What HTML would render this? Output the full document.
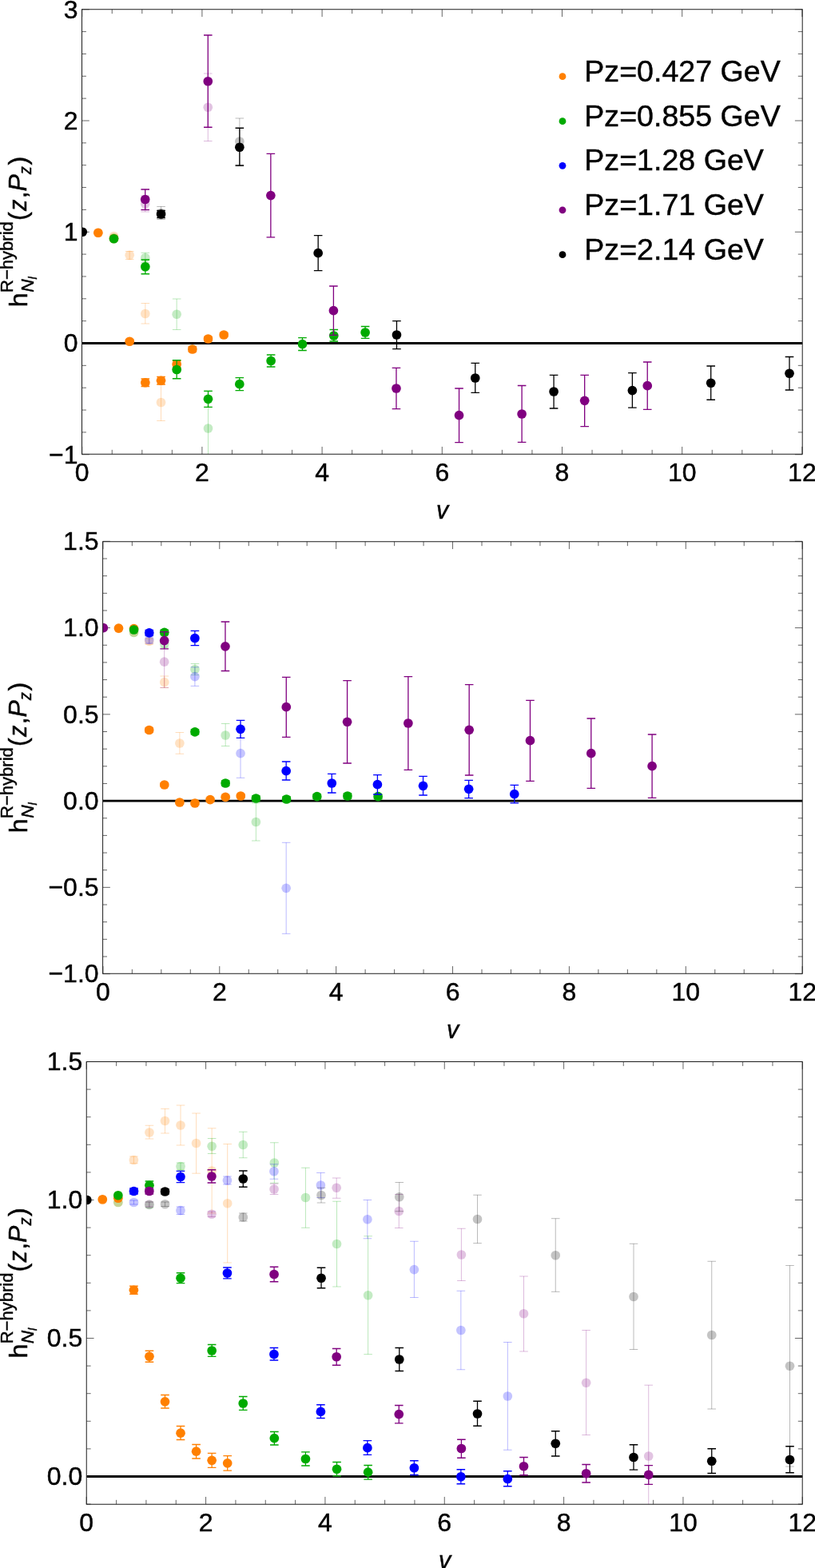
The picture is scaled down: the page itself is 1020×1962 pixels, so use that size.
<!DOCTYPE html>
<html><head><meta charset="utf-8"><title>plot</title>
<style>
html,body{margin:0;padding:0;background:#fff;}
svg{display:block;}
text{font-family:"Liberation Sans",Arial,Helvetica,sans-serif;fill:#000;stroke:#000;stroke-width:0.45px;}
.tk{font-size:32px;}
</style></head><body>
<svg width="1020" height="1962" viewBox="0 0 1020 1962">
<rect width="1020" height="1962" fill="#fff"/>
<clipPath id="c1"><rect x="102.5" y="11.75" width="901.7" height="556.5"/></clipPath>
<path d="M102.7 568.25v-9.3M102.7 11.75v9.3M140.25 568.25v-5.4M140.25 11.75v5.4M177.8 568.25v-5.4M177.8 11.75v5.4M215.35 568.25v-5.4M215.35 11.75v5.4M252.9 568.25v-9.3M252.9 11.75v9.3M290.45 568.25v-5.4M290.45 11.75v5.4M328 568.25v-5.4M328 11.75v5.4M365.55 568.25v-5.4M365.55 11.75v5.4M403.1 568.25v-9.3M403.1 11.75v9.3M440.65 568.25v-5.4M440.65 11.75v5.4M478.2 568.25v-5.4M478.2 11.75v5.4M515.75 568.25v-5.4M515.75 11.75v5.4M553.3 568.25v-9.3M553.3 11.75v9.3M590.85 568.25v-5.4M590.85 11.75v5.4M628.4 568.25v-5.4M628.4 11.75v5.4M665.95 568.25v-5.4M665.95 11.75v5.4M703.5 568.25v-9.3M703.5 11.75v9.3M741.05 568.25v-5.4M741.05 11.75v5.4M778.6 568.25v-5.4M778.6 11.75v5.4M816.15 568.25v-5.4M816.15 11.75v5.4M853.7 568.25v-9.3M853.7 11.75v9.3M891.25 568.25v-5.4M891.25 11.75v5.4M928.8 568.25v-5.4M928.8 11.75v5.4M966.35 568.25v-5.4M966.35 11.75v5.4M1003.9 568.25v-9.3M1003.9 11.75v9.3M102.5 568.75h9.3M1004.2 568.75h-9.3M102.5 540.9h5.4M1004.2 540.9h-5.4M102.5 513.05h5.4M1004.2 513.05h-5.4M102.5 485.2h5.4M1004.2 485.2h-5.4M102.5 457.35h5.4M1004.2 457.35h-5.4M102.5 429.5h9.3M1004.2 429.5h-9.3M102.5 401.65h5.4M1004.2 401.65h-5.4M102.5 373.8h5.4M1004.2 373.8h-5.4M102.5 345.95h5.4M1004.2 345.95h-5.4M102.5 318.1h5.4M1004.2 318.1h-5.4M102.5 290.25h9.3M1004.2 290.25h-9.3M102.5 262.4h5.4M1004.2 262.4h-5.4M102.5 234.55h5.4M1004.2 234.55h-5.4M102.5 206.7h5.4M1004.2 206.7h-5.4M102.5 178.85h5.4M1004.2 178.85h-5.4M102.5 151h9.3M1004.2 151h-9.3M102.5 123.15h5.4M1004.2 123.15h-5.4M102.5 95.3h5.4M1004.2 95.3h-5.4M102.5 67.45h5.4M1004.2 67.45h-5.4M102.5 39.6h5.4M1004.2 39.6h-5.4M102.5 11.75h9.3M1004.2 11.75h-9.3" stroke="#4a4a4a" stroke-width="0.85" fill="none"/>
<g clip-path="url(#c1)">
<circle cx="122.86" cy="291.5" r="5.85" fill="#ff8000" opacity="0.23"/>
<circle cx="142.52" cy="295.5" r="5.85" fill="#ff8000" opacity="0.23"/>
<path d="M162.18 314.5V324.5M156.88 314.5h10.6M156.88 324.5h10.6" stroke="#ff8000" stroke-width="0.9" fill="none" opacity="0.3"/>
<circle cx="162.18" cy="319.25" r="5.85" fill="#ff8000" opacity="0.23"/>
<path d="M181.84 379.5V405M176.54 379.5h10.6M176.54 405h10.6" stroke="#ff8000" stroke-width="0.9" fill="none" opacity="0.3"/>
<circle cx="181.84" cy="392.5" r="5.85" fill="#ff8000" opacity="0.23"/>
<path d="M201.51 480.5V526.5M196.21 480.5h10.6M196.21 526.5h10.6" stroke="#ff8000" stroke-width="0.9" fill="none" opacity="0.3"/>
<circle cx="201.51" cy="503.5" r="5.85" fill="#ff8000" opacity="0.23"/>
<circle cx="142.52" cy="297.5" r="5.85" fill="#00aa00" opacity="0.23"/>
<path d="M181.84 316.25V328.75M176.54 316.25h10.6M176.54 328.75h10.6" stroke="#00aa00" stroke-width="0.9" fill="none" opacity="0.3"/>
<circle cx="181.84" cy="322.5" r="5.85" fill="#00aa00" opacity="0.23"/>
<path d="M221.17 374V412.5M215.87 374h10.6M215.87 412.5h10.6" stroke="#00aa00" stroke-width="0.9" fill="none" opacity="0.3"/>
<circle cx="221.17" cy="393.25" r="5.85" fill="#00aa00" opacity="0.23"/>
<path d="M260.49 489V583M255.19 489h10.6M255.19 583h10.6" stroke="#00aa00" stroke-width="0.9" fill="none" opacity="0.3"/>
<circle cx="260.49" cy="536" r="5.85" fill="#00aa00" opacity="0.23"/>
<path d="M181.72 245V265M176.42 245h10.6M176.42 265h10.6" stroke="#800080" stroke-width="0.9" fill="none" opacity="0.3"/>
<circle cx="181.72" cy="255" r="5.85" fill="#800080" opacity="0.23"/>
<path d="M260.28 92V176.5M254.98 92h10.6M254.98 176.5h10.6" stroke="#800080" stroke-width="0.9" fill="none" opacity="0.3"/>
<circle cx="260.28" cy="134.25" r="5.85" fill="#800080" opacity="0.23"/>
<path d="M201.56 258.5V274.5M196.26 258.5h10.6M196.26 274.5h10.6" stroke="#000000" stroke-width="0.9" fill="none" opacity="0.3"/>
<circle cx="201.56" cy="266.5" r="5.85" fill="#000000" opacity="0.23"/>
<path d="M299.86 148V206M294.56 148h10.6M294.56 206h10.6" stroke="#000000" stroke-width="0.9" fill="none" opacity="0.3"/>
<circle cx="299.86" cy="177" r="5.85" fill="#000000" opacity="0.23"/>
<path d="M102.5 429.5H1004.2" stroke="#000" stroke-width="2.8" fill="none"/>
<circle cx="122.86" cy="291.25" r="5.85" fill="#ff8000"/>
<circle cx="142.52" cy="298.5" r="5.85" fill="#ff8000"/>
<path d="M162.18 425V429.5M156.88 425h10.6M156.88 429.5h10.6" stroke="#ff8000" stroke-width="1.3" fill="none"/>
<circle cx="162.18" cy="427.25" r="5.85" fill="#ff8000"/>
<path d="M181.84 474V483.5M176.54 474h10.6M176.54 483.5h10.6" stroke="#ff8000" stroke-width="1.3" fill="none"/>
<circle cx="181.84" cy="478.75" r="5.85" fill="#ff8000"/>
<path d="M201.51 471.5V481M196.21 471.5h10.6M196.21 481h10.6" stroke="#ff8000" stroke-width="1.3" fill="none"/>
<circle cx="201.51" cy="476.25" r="5.85" fill="#ff8000"/>
<path d="M221.17 451.5V460M215.87 451.5h10.6M215.87 460h10.6" stroke="#ff8000" stroke-width="1.3" fill="none"/>
<circle cx="221.17" cy="455.75" r="5.85" fill="#ff8000"/>
<path d="M240.83 434V440M235.53 434h10.6M235.53 440h10.6" stroke="#ff8000" stroke-width="1.3" fill="none"/>
<circle cx="240.83" cy="437" r="5.85" fill="#ff8000"/>
<path d="M260.49 421.5V426.5M255.19 421.5h10.6M255.19 426.5h10.6" stroke="#ff8000" stroke-width="1.3" fill="none"/>
<circle cx="260.49" cy="424" r="5.85" fill="#ff8000"/>
<path d="M280.15 416.5V421.5M274.85 416.5h10.6M274.85 421.5h10.6" stroke="#ff8000" stroke-width="1.3" fill="none"/>
<circle cx="280.15" cy="419" r="5.85" fill="#ff8000"/>
<circle cx="142.52" cy="298.75" r="5.85" fill="#00aa00"/>
<path d="M181.84 325V342.75M176.54 325h10.6M176.54 342.75h10.6" stroke="#00aa00" stroke-width="1.3" fill="none"/>
<circle cx="181.84" cy="333.75" r="5.85" fill="#00aa00"/>
<path d="M221.17 450.75V473.75M215.87 450.75h10.6M215.87 473.75h10.6" stroke="#00aa00" stroke-width="1.3" fill="none"/>
<circle cx="221.17" cy="462.5" r="5.85" fill="#00aa00"/>
<path d="M260.49 489.3V509.3M255.19 489.3h10.6M255.19 509.3h10.6" stroke="#00aa00" stroke-width="1.3" fill="none"/>
<circle cx="260.49" cy="499.3" r="5.85" fill="#00aa00"/>
<path d="M299.81 472.7V488.7M294.51 472.7h10.6M294.51 488.7h10.6" stroke="#00aa00" stroke-width="1.3" fill="none"/>
<circle cx="299.81" cy="480.7" r="5.85" fill="#00aa00"/>
<path d="M339.13 444V459M333.83 444h10.6M333.83 459h10.6" stroke="#00aa00" stroke-width="1.3" fill="none"/>
<circle cx="339.13" cy="451.5" r="5.85" fill="#00aa00"/>
<path d="M378.46 422.7V438.5M373.16 422.7h10.6M373.16 438.5h10.6" stroke="#00aa00" stroke-width="1.3" fill="none"/>
<circle cx="378.46" cy="430.7" r="5.85" fill="#00aa00"/>
<path d="M417.78 412.5V427M412.48 412.5h10.6M412.48 427h10.6" stroke="#00aa00" stroke-width="1.3" fill="none"/>
<circle cx="417.78" cy="420" r="5.85" fill="#00aa00"/>
<path d="M457.1 408.5V423.3M451.8 408.5h10.6M451.8 423.3h10.6" stroke="#00aa00" stroke-width="1.3" fill="none"/>
<circle cx="457.1" cy="416" r="5.85" fill="#00aa00"/>
<path d="M181.72 237V262.5M176.42 237h10.6M176.42 262.5h10.6" stroke="#800080" stroke-width="1.3" fill="none"/>
<circle cx="181.72" cy="249.5" r="5.85" fill="#800080"/>
<path d="M260.28 44V159.25M254.98 44h10.6M254.98 159.25h10.6" stroke="#800080" stroke-width="1.3" fill="none"/>
<circle cx="260.28" cy="101.75" r="5.85" fill="#800080"/>
<path d="M338.85 192.4V296.8M333.55 192.4h10.6M333.55 296.8h10.6" stroke="#800080" stroke-width="1.3" fill="none"/>
<circle cx="338.85" cy="244.6" r="5.85" fill="#800080"/>
<path d="M417.41 358V419.3M412.11 358h10.6M412.11 419.3h10.6" stroke="#800080" stroke-width="1.3" fill="none"/>
<circle cx="417.41" cy="388.7" r="5.85" fill="#800080"/>
<path d="M495.98 460.3V511.7M490.68 460.3h10.6M490.68 511.7h10.6" stroke="#800080" stroke-width="1.3" fill="none"/>
<circle cx="495.98" cy="486" r="5.85" fill="#800080"/>
<path d="M574.55 486V553.7M569.25 486h10.6M569.25 553.7h10.6" stroke="#800080" stroke-width="1.3" fill="none"/>
<circle cx="574.55" cy="519.7" r="5.85" fill="#800080"/>
<path d="M653.11 482.5V553.3M647.81 482.5h10.6M647.81 553.3h10.6" stroke="#800080" stroke-width="1.3" fill="none"/>
<circle cx="653.11" cy="518" r="5.85" fill="#800080"/>
<path d="M731.68 469.3V533.7M726.38 469.3h10.6M726.38 533.7h10.6" stroke="#800080" stroke-width="1.3" fill="none"/>
<circle cx="731.68" cy="501.3" r="5.85" fill="#800080"/>
<path d="M810.24 453V512.3M804.94 453h10.6M804.94 512.3h10.6" stroke="#800080" stroke-width="1.3" fill="none"/>
<circle cx="810.24" cy="482.7" r="5.85" fill="#800080"/>
<circle cx="103.25" cy="290.25" r="5.85" fill="#000000"/>
<path d="M201.56 263.5V272.5M196.26 263.5h10.6M196.26 272.5h10.6" stroke="#000000" stroke-width="1.3" fill="none"/>
<circle cx="201.56" cy="268" r="5.85" fill="#000000"/>
<path d="M299.86 160.25V207.25M294.56 160.25h10.6M294.56 207.25h10.6" stroke="#000000" stroke-width="1.3" fill="none"/>
<circle cx="299.86" cy="184.25" r="5.85" fill="#000000"/>
<path d="M398.17 294.7V338.7M392.87 294.7h10.6M392.87 338.7h10.6" stroke="#000000" stroke-width="1.3" fill="none"/>
<circle cx="398.17" cy="316.7" r="5.85" fill="#000000"/>
<path d="M496.47 401.7V436.7M491.17 401.7h10.6M491.17 436.7h10.6" stroke="#000000" stroke-width="1.3" fill="none"/>
<circle cx="496.47" cy="419" r="5.85" fill="#000000"/>
<path d="M594.78 454.3V491.3M589.48 454.3h10.6M589.48 491.3h10.6" stroke="#000000" stroke-width="1.3" fill="none"/>
<circle cx="594.78" cy="473" r="5.85" fill="#000000"/>
<path d="M693.08 469.3V511M687.78 469.3h10.6M687.78 511h10.6" stroke="#000000" stroke-width="1.3" fill="none"/>
<circle cx="693.08" cy="490" r="5.85" fill="#000000"/>
<path d="M791.39 466.7V510.2M786.09 466.7h10.6M786.09 510.2h10.6" stroke="#000000" stroke-width="1.3" fill="none"/>
<circle cx="791.39" cy="488.6" r="5.85" fill="#000000"/>
<path d="M889.7 458V500.25M884.4 458h10.6M884.4 500.25h10.6" stroke="#000000" stroke-width="1.3" fill="none"/>
<circle cx="889.7" cy="479.25" r="5.85" fill="#000000"/>
<path d="M988 446.5V488M982.7 446.5h10.6M982.7 488h10.6" stroke="#000000" stroke-width="1.3" fill="none"/>
<circle cx="988" cy="467.25" r="5.85" fill="#000000"/>
</g>
<rect x="102.5" y="11.75" width="901.7" height="556.5" fill="none" stroke="#1c1c1c" stroke-width="1"/>
<text x="102.7" y="601.65" text-anchor="middle" class="tk">0</text>
<text x="252.9" y="601.65" text-anchor="middle" class="tk">2</text>
<text x="403.1" y="601.65" text-anchor="middle" class="tk">4</text>
<text x="553.3" y="601.65" text-anchor="middle" class="tk">6</text>
<text x="703.5" y="601.65" text-anchor="middle" class="tk">8</text>
<text x="853.7" y="601.65" text-anchor="middle" class="tk">10</text>
<text x="1003.9" y="601.65" text-anchor="middle" class="tk">12</text>
<text x="97.5" y="579.55" text-anchor="end" class="tk">−1</text>
<text x="97.5" y="440.3" text-anchor="end" class="tk">0</text>
<text x="97.5" y="301.05" text-anchor="end" class="tk">1</text>
<text x="97.5" y="161.8" text-anchor="end" class="tk">2</text>
<text x="97.5" y="22.55" text-anchor="end" class="tk">3</text>
<text x="553.65" y="648.55" text-anchor="middle" font-size="30.5" font-style="italic">v</text>
<g transform="translate(33.4,381.7) rotate(-90)" class="yl">
<text x="-2.5" y="0.3" font-size="32">h</text>
<text x="15.8" y="-17.9" font-size="22">R−hybrid</text>
<text x="15.9" y="8.4" font-size="22.7" font-style="italic">N</text>
<text x="32.1" y="12.6" font-size="14.4" font-style="italic">l</text>
<text x="105.6" y="0" font-size="32">(</text>
<text transform="translate(117.7,0) scale(0.9,1)" font-size="32" font-style="italic">z</text>
<text x="133.4" y="0" font-size="32">,</text>
<text x="142.1" y="0" font-size="32" font-style="italic">P</text>
<text transform="translate(163.5,5.8) scale(0.9,1)" font-size="22.5" font-style="italic">z</text>
<text x="175.1" y="0" font-size="32">)</text>
</g>
<clipPath id="c2"><rect x="128.6" y="677.75" width="875.6" height="540.5"/></clipPath>
<path d="M128.9 1218.25v-9.3M128.9 677.75v9.3M165.37 1218.25v-5.4M165.37 677.75v5.4M201.84 1218.25v-5.4M201.84 677.75v5.4M238.31 1218.25v-5.4M238.31 677.75v5.4M274.78 1218.25v-9.3M274.78 677.75v9.3M311.25 1218.25v-5.4M311.25 677.75v5.4M347.72 1218.25v-5.4M347.72 677.75v5.4M384.19 1218.25v-5.4M384.19 677.75v5.4M420.66 1218.25v-9.3M420.66 677.75v9.3M457.13 1218.25v-5.4M457.13 677.75v5.4M493.6 1218.25v-5.4M493.6 677.75v5.4M530.07 1218.25v-5.4M530.07 677.75v5.4M566.54 1218.25v-9.3M566.54 677.75v9.3M603.01 1218.25v-5.4M603.01 677.75v5.4M639.48 1218.25v-5.4M639.48 677.75v5.4M675.95 1218.25v-5.4M675.95 677.75v5.4M712.42 1218.25v-9.3M712.42 677.75v9.3M748.89 1218.25v-5.4M748.89 677.75v5.4M785.36 1218.25v-5.4M785.36 677.75v5.4M821.83 1218.25v-5.4M821.83 677.75v5.4M858.3 1218.25v-9.3M858.3 677.75v9.3M894.77 1218.25v-5.4M894.77 677.75v5.4M931.24 1218.25v-5.4M931.24 677.75v5.4M967.71 1218.25v-5.4M967.71 677.75v5.4M1004.18 1218.25v-9.3M1004.18 677.75v9.3M128.6 1218.6h9.3M1004.2 1218.6h-9.3M128.6 1196.95h5.4M1004.2 1196.95h-5.4M128.6 1175.3h5.4M1004.2 1175.3h-5.4M128.6 1153.65h5.4M1004.2 1153.65h-5.4M128.6 1132h5.4M1004.2 1132h-5.4M128.6 1110.35h9.3M1004.2 1110.35h-9.3M128.6 1088.7h5.4M1004.2 1088.7h-5.4M128.6 1067.05h5.4M1004.2 1067.05h-5.4M128.6 1045.4h5.4M1004.2 1045.4h-5.4M128.6 1023.75h5.4M1004.2 1023.75h-5.4M128.6 1002.1h9.3M1004.2 1002.1h-9.3M128.6 980.45h5.4M1004.2 980.45h-5.4M128.6 958.8h5.4M1004.2 958.8h-5.4M128.6 937.15h5.4M1004.2 937.15h-5.4M128.6 915.5h5.4M1004.2 915.5h-5.4M128.6 893.85h9.3M1004.2 893.85h-9.3M128.6 872.2h5.4M1004.2 872.2h-5.4M128.6 850.55h5.4M1004.2 850.55h-5.4M128.6 828.9h5.4M1004.2 828.9h-5.4M128.6 807.25h5.4M1004.2 807.25h-5.4M128.6 785.6h9.3M1004.2 785.6h-9.3M128.6 763.95h5.4M1004.2 763.95h-5.4M128.6 742.3h5.4M1004.2 742.3h-5.4M128.6 720.65h5.4M1004.2 720.65h-5.4M128.6 699h5.4M1004.2 699h-5.4M128.6 677.35h9.3M1004.2 677.35h-9.3" stroke="#4a4a4a" stroke-width="0.85" fill="none"/>
<g clip-path="url(#c2)">
<circle cx="148.5" cy="786.5" r="5.85" fill="#ff8000" opacity="0.23"/>
<circle cx="167.59" cy="791" r="5.85" fill="#ff8000" opacity="0.23"/>
<path d="M186.69 799V806M181.39 799h10.6M181.39 806h10.6" stroke="#ff8000" stroke-width="0.9" fill="none" opacity="0.3"/>
<circle cx="186.69" cy="802.4" r="5.85" fill="#ff8000" opacity="0.23"/>
<path d="M205.78 846V860.6M200.48 846h10.6M200.48 860.6h10.6" stroke="#ff8000" stroke-width="0.9" fill="none" opacity="0.3"/>
<circle cx="205.78" cy="853.7" r="5.85" fill="#ff8000" opacity="0.23"/>
<path d="M224.88 916.5V943.25M219.58 916.5h10.6M219.58 943.25h10.6" stroke="#ff8000" stroke-width="0.9" fill="none" opacity="0.3"/>
<circle cx="224.88" cy="930" r="5.85" fill="#ff8000" opacity="0.23"/>
<circle cx="167.59" cy="791.5" r="5.85" fill="#00aa00" opacity="0.23"/>
<path d="M205.78 801V810M200.48 801h10.6M200.48 810h10.6" stroke="#00aa00" stroke-width="0.9" fill="none" opacity="0.3"/>
<circle cx="205.78" cy="805.5" r="5.85" fill="#00aa00" opacity="0.23"/>
<path d="M243.97 830.5V844.5M238.67 830.5h10.6M238.67 844.5h10.6" stroke="#00aa00" stroke-width="0.9" fill="none" opacity="0.3"/>
<circle cx="243.97" cy="837.5" r="5.85" fill="#00aa00" opacity="0.23"/>
<path d="M282.17 905.5V933.5M276.87 905.5h10.6M276.87 933.5h10.6" stroke="#00aa00" stroke-width="0.9" fill="none" opacity="0.3"/>
<circle cx="282.17" cy="920" r="5.85" fill="#00aa00" opacity="0.23"/>
<path d="M320.36 1005V1052M315.06 1005h10.6M315.06 1052h10.6" stroke="#00aa00" stroke-width="0.9" fill="none" opacity="0.3"/>
<circle cx="320.36" cy="1028.5" r="5.85" fill="#00aa00" opacity="0.23"/>
<path d="M186.78 796V805M181.48 796h10.6M181.48 805h10.6" stroke="#0000ff" stroke-width="0.9" fill="none" opacity="0.3"/>
<circle cx="186.78" cy="800.5" r="5.85" fill="#0000ff" opacity="0.23"/>
<path d="M243.9 834.8V858.4M238.6 834.8h10.6M238.6 858.4h10.6" stroke="#0000ff" stroke-width="0.9" fill="none" opacity="0.3"/>
<circle cx="243.9" cy="846.6" r="5.85" fill="#0000ff" opacity="0.23"/>
<path d="M301.03 912V973.3M295.73 912h10.6M295.73 973.3h10.6" stroke="#0000ff" stroke-width="0.9" fill="none" opacity="0.3"/>
<circle cx="301.03" cy="942.7" r="5.85" fill="#0000ff" opacity="0.23"/>
<path d="M358.16 1054.3V1168.3M352.86 1054.3h10.6M352.86 1168.3h10.6" stroke="#0000ff" stroke-width="0.9" fill="none" opacity="0.3"/>
<circle cx="358.16" cy="1111.3" r="5.85" fill="#0000ff" opacity="0.23"/>
<path d="M205.66 796V860.4M200.36 796h10.6M200.36 860.4h10.6" stroke="#800080" stroke-width="0.9" fill="none" opacity="0.3"/>
<circle cx="205.66" cy="828.2" r="5.85" fill="#800080" opacity="0.23"/>
<path d="M128.6 1002.1H1004.2" stroke="#000" stroke-width="2.8" fill="none"/>
<circle cx="148.5" cy="786.1" r="5.85" fill="#ff8000"/>
<circle cx="167.59" cy="786.6" r="5.85" fill="#ff8000"/>
<path d="M186.69 911V916M181.39 911h10.6M181.39 916h10.6" stroke="#ff8000" stroke-width="1.3" fill="none"/>
<circle cx="186.69" cy="913.5" r="5.85" fill="#ff8000"/>
<path d="M205.78 980V984M200.48 980h10.6M200.48 984h10.6" stroke="#ff8000" stroke-width="1.3" fill="none"/>
<circle cx="205.78" cy="982" r="5.85" fill="#ff8000"/>
<path d="M224.88 1002V1006M219.58 1002h10.6M219.58 1006h10.6" stroke="#ff8000" stroke-width="1.3" fill="none"/>
<circle cx="224.88" cy="1004" r="5.85" fill="#ff8000"/>
<path d="M243.97 1003V1007M238.67 1003h10.6M238.67 1007h10.6" stroke="#ff8000" stroke-width="1.3" fill="none"/>
<circle cx="243.97" cy="1005" r="5.85" fill="#ff8000"/>
<path d="M263.07 998.7V1002.7M257.77 998.7h10.6M257.77 1002.7h10.6" stroke="#ff8000" stroke-width="1.3" fill="none"/>
<circle cx="263.07" cy="1000.7" r="5.85" fill="#ff8000"/>
<path d="M282.17 995.3V999.3M276.87 995.3h10.6M276.87 999.3h10.6" stroke="#ff8000" stroke-width="1.3" fill="none"/>
<circle cx="282.17" cy="997.3" r="5.85" fill="#ff8000"/>
<path d="M301.26 994V998M295.96 994h10.6M295.96 998h10.6" stroke="#ff8000" stroke-width="1.3" fill="none"/>
<circle cx="301.26" cy="996" r="5.85" fill="#ff8000"/>
<circle cx="167.59" cy="788" r="5.85" fill="#00aa00"/>
<path d="M205.78 788.5V794M200.48 788.5h10.6M200.48 794h10.6" stroke="#00aa00" stroke-width="1.3" fill="none"/>
<circle cx="205.78" cy="791.3" r="5.85" fill="#00aa00"/>
<path d="M243.97 912.8V918.8M238.67 912.8h10.6M238.67 918.8h10.6" stroke="#00aa00" stroke-width="1.3" fill="none"/>
<circle cx="243.97" cy="915.8" r="5.85" fill="#00aa00"/>
<path d="M282.17 977V983M276.87 977h10.6M276.87 983h10.6" stroke="#00aa00" stroke-width="1.3" fill="none"/>
<circle cx="282.17" cy="980" r="5.85" fill="#00aa00"/>
<path d="M320.36 996V1002M315.06 996h10.6M315.06 1002h10.6" stroke="#00aa00" stroke-width="1.3" fill="none"/>
<circle cx="320.36" cy="999" r="5.85" fill="#00aa00"/>
<path d="M358.55 997V1003M353.25 997h10.6M353.25 1003h10.6" stroke="#00aa00" stroke-width="1.3" fill="none"/>
<circle cx="358.55" cy="1000" r="5.85" fill="#00aa00"/>
<path d="M396.74 994V999.5M391.44 994h10.6M391.44 999.5h10.6" stroke="#00aa00" stroke-width="1.3" fill="none"/>
<circle cx="396.74" cy="996.7" r="5.85" fill="#00aa00"/>
<path d="M434.93 993V999M429.63 993h10.6M429.63 999h10.6" stroke="#00aa00" stroke-width="1.3" fill="none"/>
<circle cx="434.93" cy="996" r="5.85" fill="#00aa00"/>
<path d="M473.12 994V999.5M467.82 994h10.6M467.82 999.5h10.6" stroke="#00aa00" stroke-width="1.3" fill="none"/>
<circle cx="473.12" cy="996.7" r="5.85" fill="#00aa00"/>
<path d="M186.78 788.5V795M181.48 788.5h10.6M181.48 795h10.6" stroke="#0000ff" stroke-width="1.3" fill="none"/>
<circle cx="186.78" cy="791.8" r="5.85" fill="#0000ff"/>
<path d="M243.9 789.4V807.6M238.6 789.4h10.6M238.6 807.6h10.6" stroke="#0000ff" stroke-width="1.3" fill="none"/>
<circle cx="243.9" cy="798.5" r="5.85" fill="#0000ff"/>
<path d="M301.03 901.3V923.3M295.73 901.3h10.6M295.73 923.3h10.6" stroke="#0000ff" stroke-width="1.3" fill="none"/>
<circle cx="301.03" cy="912.3" r="5.85" fill="#0000ff"/>
<path d="M358.16 953V976M352.86 953h10.6M352.86 976h10.6" stroke="#0000ff" stroke-width="1.3" fill="none"/>
<circle cx="358.16" cy="964.7" r="5.85" fill="#0000ff"/>
<path d="M415.28 968.3V992M409.98 968.3h10.6M409.98 992h10.6" stroke="#0000ff" stroke-width="1.3" fill="none"/>
<circle cx="415.28" cy="980" r="5.85" fill="#0000ff"/>
<path d="M472.41 969.7V994M467.11 969.7h10.6M467.11 994h10.6" stroke="#0000ff" stroke-width="1.3" fill="none"/>
<circle cx="472.41" cy="981.7" r="5.85" fill="#0000ff"/>
<path d="M529.54 971.3V995M524.24 971.3h10.6M524.24 995h10.6" stroke="#0000ff" stroke-width="1.3" fill="none"/>
<circle cx="529.54" cy="983.3" r="5.85" fill="#0000ff"/>
<path d="M586.66 976.3V998.7M581.36 976.3h10.6M581.36 998.7h10.6" stroke="#0000ff" stroke-width="1.3" fill="none"/>
<circle cx="586.66" cy="987.3" r="5.85" fill="#0000ff"/>
<path d="M643.79 982.3V1004.8M638.49 982.3h10.6M638.49 1004.8h10.6" stroke="#0000ff" stroke-width="1.3" fill="none"/>
<circle cx="643.79" cy="993.7" r="5.85" fill="#0000ff"/>
<circle cx="129.35" cy="785.7" r="5.85" fill="#800080"/>
<path d="M205.66 790.7V811.8M200.36 790.7h10.6M200.36 811.8h10.6" stroke="#800080" stroke-width="1.3" fill="none"/>
<circle cx="205.66" cy="801.6" r="5.85" fill="#800080"/>
<path d="M281.96 778V839.5M276.66 778h10.6M276.66 839.5h10.6" stroke="#800080" stroke-width="1.3" fill="none"/>
<circle cx="281.96" cy="808.8" r="5.85" fill="#800080"/>
<path d="M358.27 847.3V922.3M352.97 847.3h10.6M352.97 922.3h10.6" stroke="#800080" stroke-width="1.3" fill="none"/>
<circle cx="358.27" cy="884.7" r="5.85" fill="#800080"/>
<path d="M434.57 851.7V955M429.27 851.7h10.6M429.27 955h10.6" stroke="#800080" stroke-width="1.3" fill="none"/>
<circle cx="434.57" cy="903.3" r="5.85" fill="#800080"/>
<path d="M510.88 846.7V963.3M505.58 846.7h10.6M505.58 963.3h10.6" stroke="#800080" stroke-width="1.3" fill="none"/>
<circle cx="510.88" cy="905" r="5.85" fill="#800080"/>
<path d="M587.19 856.7V970M581.89 856.7h10.6M581.89 970h10.6" stroke="#800080" stroke-width="1.3" fill="none"/>
<circle cx="587.19" cy="913.3" r="5.85" fill="#800080"/>
<path d="M663.49 876.3V977.3M658.19 876.3h10.6M658.19 977.3h10.6" stroke="#800080" stroke-width="1.3" fill="none"/>
<circle cx="663.49" cy="926.7" r="5.85" fill="#800080"/>
<path d="M739.8 899V986.3M734.5 899h10.6M734.5 986.3h10.6" stroke="#800080" stroke-width="1.3" fill="none"/>
<circle cx="739.8" cy="942.7" r="5.85" fill="#800080"/>
<path d="M816.11 919V998.3M810.81 919h10.6M810.81 998.3h10.6" stroke="#800080" stroke-width="1.3" fill="none"/>
<circle cx="816.11" cy="958.7" r="5.85" fill="#800080"/>
</g>
<rect x="128.6" y="677.75" width="875.6" height="540.5" fill="none" stroke="#1c1c1c" stroke-width="1"/>
<text x="128.9" y="1251.65" text-anchor="middle" class="tk">0</text>
<text x="274.78" y="1251.65" text-anchor="middle" class="tk">2</text>
<text x="420.66" y="1251.65" text-anchor="middle" class="tk">4</text>
<text x="566.54" y="1251.65" text-anchor="middle" class="tk">6</text>
<text x="712.42" y="1251.65" text-anchor="middle" class="tk">8</text>
<text x="858.3" y="1251.65" text-anchor="middle" class="tk">10</text>
<text x="1004.18" y="1251.65" text-anchor="middle" class="tk">12</text>
<text x="123.6" y="1229.4" text-anchor="end" class="tk">−1.0</text>
<text x="123.6" y="1121.15" text-anchor="end" class="tk">−0.5</text>
<text x="123.6" y="1012.9" text-anchor="end" class="tk">0.0</text>
<text x="123.6" y="904.65" text-anchor="end" class="tk">0.5</text>
<text x="123.6" y="796.4" text-anchor="end" class="tk">1.0</text>
<text x="123.6" y="688.15" text-anchor="end" class="tk">1.5</text>
<text x="566.7" y="1298.55" text-anchor="middle" font-size="30.5" font-style="italic">v</text>
<g transform="translate(33.4,1039.7) rotate(-90)" class="yl">
<text x="-2.5" y="0.3" font-size="32">h</text>
<text x="15.8" y="-17.9" font-size="22">R−hybrid</text>
<text x="15.9" y="8.4" font-size="22.7" font-style="italic">N</text>
<text x="32.1" y="12.6" font-size="14.4" font-style="italic">l</text>
<text x="105.6" y="0" font-size="32">(</text>
<text transform="translate(117.7,0) scale(0.9,1)" font-size="32" font-style="italic">z</text>
<text x="133.4" y="0" font-size="32">,</text>
<text x="142.1" y="0" font-size="32" font-style="italic">P</text>
<text transform="translate(163.5,5.8) scale(0.9,1)" font-size="22.5" font-style="italic">z</text>
<text x="175.1" y="0" font-size="32">)</text>
</g>
<clipPath id="c3"><rect x="108.25" y="1328.5" width="895.95" height="553.75"/></clipPath>
<path d="M108.25 1882.25v-9.3M108.25 1328.5v9.3M145.59 1882.25v-5.4M145.59 1328.5v5.4M182.92 1882.25v-5.4M182.92 1328.5v5.4M220.25 1882.25v-5.4M220.25 1328.5v5.4M257.59 1882.25v-9.3M257.59 1328.5v9.3M294.93 1882.25v-5.4M294.93 1328.5v5.4M332.26 1882.25v-5.4M332.26 1328.5v5.4M369.6 1882.25v-5.4M369.6 1328.5v5.4M406.93 1882.25v-9.3M406.93 1328.5v9.3M444.26 1882.25v-5.4M444.26 1328.5v5.4M481.6 1882.25v-5.4M481.6 1328.5v5.4M518.93 1882.25v-5.4M518.93 1328.5v5.4M556.27 1882.25v-9.3M556.27 1328.5v9.3M593.61 1882.25v-5.4M593.61 1328.5v5.4M630.94 1882.25v-5.4M630.94 1328.5v5.4M668.27 1882.25v-5.4M668.27 1328.5v5.4M705.61 1882.25v-9.3M705.61 1328.5v9.3M742.95 1882.25v-5.4M742.95 1328.5v5.4M780.28 1882.25v-5.4M780.28 1328.5v5.4M817.62 1882.25v-5.4M817.62 1328.5v5.4M854.95 1882.25v-9.3M854.95 1328.5v9.3M892.28 1882.25v-5.4M892.28 1328.5v5.4M929.62 1882.25v-5.4M929.62 1328.5v5.4M966.96 1882.25v-5.4M966.96 1328.5v5.4M1004.29 1882.25v-9.3M1004.29 1328.5v9.3M108.25 1882.1h5.4M1004.2 1882.1h-5.4M108.25 1847.5h9.3M1004.2 1847.5h-9.3M108.25 1812.9h5.4M1004.2 1812.9h-5.4M108.25 1778.3h5.4M1004.2 1778.3h-5.4M108.25 1743.7h5.4M1004.2 1743.7h-5.4M108.25 1709.1h5.4M1004.2 1709.1h-5.4M108.25 1674.5h9.3M1004.2 1674.5h-9.3M108.25 1639.9h5.4M1004.2 1639.9h-5.4M108.25 1605.3h5.4M1004.2 1605.3h-5.4M108.25 1570.7h5.4M1004.2 1570.7h-5.4M108.25 1536.1h5.4M1004.2 1536.1h-5.4M108.25 1501.5h9.3M1004.2 1501.5h-9.3M108.25 1466.9h5.4M1004.2 1466.9h-5.4M108.25 1432.3h5.4M1004.2 1432.3h-5.4M108.25 1397.7h5.4M1004.2 1397.7h-5.4M108.25 1363.1h5.4M1004.2 1363.1h-5.4M108.25 1328.5h9.3M1004.2 1328.5h-9.3" stroke="#4a4a4a" stroke-width="0.85" fill="none"/>
<g clip-path="url(#c3)">
<circle cx="128.3" cy="1501.5" r="5.85" fill="#ff8000" opacity="0.23"/>
<circle cx="147.85" cy="1504.5" r="5.85" fill="#ff8000" opacity="0.23"/>
<path d="M167.4 1447V1455.8M162.1 1447h10.6M162.1 1455.8h10.6" stroke="#ff8000" stroke-width="0.9" fill="none" opacity="0.3"/>
<circle cx="167.4" cy="1451.5" r="5.85" fill="#ff8000" opacity="0.23"/>
<path d="M186.94 1408.25V1425M181.64 1408.25h10.6M181.64 1425h10.6" stroke="#ff8000" stroke-width="0.9" fill="none" opacity="0.3"/>
<circle cx="186.94" cy="1417" r="5.85" fill="#ff8000" opacity="0.23"/>
<path d="M206.49 1387.4V1418M201.19 1387.4h10.6M201.19 1418h10.6" stroke="#ff8000" stroke-width="0.9" fill="none" opacity="0.3"/>
<circle cx="206.49" cy="1402.5" r="5.85" fill="#ff8000" opacity="0.23"/>
<path d="M226.04 1383V1433M220.74 1383h10.6M220.74 1433h10.6" stroke="#ff8000" stroke-width="0.9" fill="none" opacity="0.3"/>
<circle cx="226.04" cy="1408" r="5.85" fill="#ff8000" opacity="0.23"/>
<path d="M245.59 1393V1468.2M240.29 1393h10.6M240.29 1468.2h10.6" stroke="#ff8000" stroke-width="0.9" fill="none" opacity="0.3"/>
<circle cx="245.59" cy="1430.5" r="5.85" fill="#ff8000" opacity="0.23"/>
<path d="M265.14 1411.8V1518M259.84 1411.8h10.6M259.84 1518h10.6" stroke="#ff8000" stroke-width="0.9" fill="none" opacity="0.3"/>
<circle cx="265.14" cy="1465" r="5.85" fill="#ff8000" opacity="0.23"/>
<path d="M284.69 1431.5V1580M279.39 1431.5h10.6M279.39 1580h10.6" stroke="#ff8000" stroke-width="0.9" fill="none" opacity="0.3"/>
<circle cx="284.69" cy="1505.75" r="5.85" fill="#ff8000" opacity="0.23"/>
<circle cx="147.85" cy="1504.5" r="5.85" fill="#00aa00" opacity="0.23"/>
<path d="M186.94 1504V1511M181.64 1504h10.6M181.64 1511h10.6" stroke="#00aa00" stroke-width="0.9" fill="none" opacity="0.3"/>
<circle cx="186.94" cy="1507.5" r="5.85" fill="#00aa00" opacity="0.23"/>
<path d="M226.04 1455V1464M220.74 1455h10.6M220.74 1464h10.6" stroke="#00aa00" stroke-width="0.9" fill="none" opacity="0.3"/>
<circle cx="226.04" cy="1459.5" r="5.85" fill="#00aa00" opacity="0.23"/>
<path d="M265.14 1424.5V1443.5M259.84 1424.5h10.6M259.84 1443.5h10.6" stroke="#00aa00" stroke-width="0.9" fill="none" opacity="0.3"/>
<circle cx="265.14" cy="1434.25" r="5.85" fill="#00aa00" opacity="0.23"/>
<path d="M304.24 1416.25V1448.75M298.94 1416.25h10.6M298.94 1448.75h10.6" stroke="#00aa00" stroke-width="0.9" fill="none" opacity="0.3"/>
<circle cx="304.24" cy="1432.5" r="5.85" fill="#00aa00" opacity="0.23"/>
<path d="M343.33 1429.75V1480.25M338.03 1429.75h10.6M338.03 1480.25h10.6" stroke="#00aa00" stroke-width="0.9" fill="none" opacity="0.3"/>
<circle cx="343.33" cy="1455" r="5.85" fill="#00aa00" opacity="0.23"/>
<path d="M382.43 1461.25V1536.25M377.13 1461.25h10.6M377.13 1536.25h10.6" stroke="#00aa00" stroke-width="0.9" fill="none" opacity="0.3"/>
<circle cx="382.43" cy="1498.5" r="5.85" fill="#00aa00" opacity="0.23"/>
<path d="M421.53 1503.25V1610M416.23 1503.25h10.6M416.23 1610h10.6" stroke="#00aa00" stroke-width="0.9" fill="none" opacity="0.3"/>
<circle cx="421.53" cy="1556.5" r="5.85" fill="#00aa00" opacity="0.23"/>
<path d="M460.62 1546.75V1694.6M455.32 1546.75h10.6M455.32 1694.6h10.6" stroke="#00aa00" stroke-width="0.9" fill="none" opacity="0.3"/>
<circle cx="460.62" cy="1620.75" r="5.85" fill="#00aa00" opacity="0.23"/>
<path d="M167.48 1502V1507M162.18 1502h10.6M162.18 1507h10.6" stroke="#0000ff" stroke-width="0.9" fill="none" opacity="0.3"/>
<circle cx="167.48" cy="1504.5" r="5.85" fill="#0000ff" opacity="0.23"/>
<path d="M225.96 1510V1519.5M220.66 1510h10.6M220.66 1519.5h10.6" stroke="#0000ff" stroke-width="0.9" fill="none" opacity="0.3"/>
<circle cx="225.96" cy="1514.7" r="5.85" fill="#0000ff" opacity="0.23"/>
<path d="M284.44 1472V1482M279.14 1472h10.6M279.14 1482h10.6" stroke="#0000ff" stroke-width="0.9" fill="none" opacity="0.3"/>
<circle cx="284.44" cy="1477" r="5.85" fill="#0000ff" opacity="0.23"/>
<path d="M342.93 1456.75V1475.25M337.63 1456.75h10.6M337.63 1475.25h10.6" stroke="#0000ff" stroke-width="0.9" fill="none" opacity="0.3"/>
<circle cx="342.93" cy="1465.75" r="5.85" fill="#0000ff" opacity="0.23"/>
<path d="M401.41 1467.5V1498.6M396.11 1467.5h10.6M396.11 1498.6h10.6" stroke="#0000ff" stroke-width="0.9" fill="none" opacity="0.3"/>
<circle cx="401.41" cy="1483" r="5.85" fill="#0000ff" opacity="0.23"/>
<path d="M459.89 1501.5V1549.75M454.59 1501.5h10.6M454.59 1549.75h10.6" stroke="#0000ff" stroke-width="0.9" fill="none" opacity="0.3"/>
<circle cx="459.89" cy="1525.75" r="5.85" fill="#0000ff" opacity="0.23"/>
<path d="M518.37 1553.25V1623.5M513.07 1553.25h10.6M513.07 1623.5h10.6" stroke="#0000ff" stroke-width="0.9" fill="none" opacity="0.3"/>
<circle cx="518.37" cy="1588.6" r="5.85" fill="#0000ff" opacity="0.23"/>
<path d="M576.85 1615.25V1713.75M571.55 1615.25h10.6M571.55 1713.75h10.6" stroke="#0000ff" stroke-width="0.9" fill="none" opacity="0.3"/>
<circle cx="576.85" cy="1664.5" r="5.85" fill="#0000ff" opacity="0.23"/>
<path d="M635.33 1679.5V1814.25M630.03 1679.5h10.6M630.03 1814.25h10.6" stroke="#0000ff" stroke-width="0.9" fill="none" opacity="0.3"/>
<circle cx="635.33" cy="1747" r="5.85" fill="#0000ff" opacity="0.23"/>
<path d="M186.82 1504V1510M181.52 1504h10.6M181.52 1510h10.6" stroke="#800080" stroke-width="0.9" fill="none" opacity="0.3"/>
<circle cx="186.82" cy="1507" r="5.85" fill="#800080" opacity="0.23"/>
<path d="M264.93 1516V1522.5M259.63 1516h10.6M259.63 1522.5h10.6" stroke="#800080" stroke-width="0.9" fill="none" opacity="0.3"/>
<circle cx="264.93" cy="1519.25" r="5.85" fill="#800080" opacity="0.23"/>
<path d="M343.05 1481.25V1494.5M337.75 1481.25h10.6M337.75 1494.5h10.6" stroke="#800080" stroke-width="0.9" fill="none" opacity="0.3"/>
<circle cx="343.05" cy="1488" r="5.85" fill="#800080" opacity="0.23"/>
<path d="M421.16 1474V1499.25M415.86 1474h10.6M415.86 1499.25h10.6" stroke="#800080" stroke-width="0.9" fill="none" opacity="0.3"/>
<circle cx="421.16" cy="1486.25" r="5.85" fill="#800080" opacity="0.23"/>
<path d="M499.28 1494.5V1536.5M493.98 1494.5h10.6M493.98 1536.5h10.6" stroke="#800080" stroke-width="0.9" fill="none" opacity="0.3"/>
<circle cx="499.28" cy="1515.5" r="5.85" fill="#800080" opacity="0.23"/>
<path d="M577.4 1537.25V1602.5M572.1 1537.25h10.6M572.1 1602.5h10.6" stroke="#800080" stroke-width="0.9" fill="none" opacity="0.3"/>
<circle cx="577.4" cy="1570" r="5.85" fill="#800080" opacity="0.23"/>
<path d="M655.51 1597V1691M650.21 1597h10.6M650.21 1691h10.6" stroke="#800080" stroke-width="0.9" fill="none" opacity="0.3"/>
<circle cx="655.51" cy="1643.75" r="5.85" fill="#800080" opacity="0.23"/>
<path d="M733.63 1664.5V1795.5M728.33 1664.5h10.6M728.33 1795.5h10.6" stroke="#800080" stroke-width="0.9" fill="none" opacity="0.3"/>
<circle cx="733.63" cy="1730.25" r="5.85" fill="#800080" opacity="0.23"/>
<path d="M811.74 1733.2V1911M806.44 1733.2h10.6M806.44 1911h10.6" stroke="#800080" stroke-width="0.9" fill="none" opacity="0.3"/>
<circle cx="811.74" cy="1822" r="5.85" fill="#800080" opacity="0.23"/>
<path d="M206.54 1504V1509.5M201.24 1504h10.6M201.24 1509.5h10.6" stroke="#000000" stroke-width="0.9" fill="none" opacity="0.3"/>
<circle cx="206.54" cy="1506.75" r="5.85" fill="#000000" opacity="0.23"/>
<path d="M304.29 1518V1528M298.99 1518h10.6M298.99 1528h10.6" stroke="#000000" stroke-width="0.9" fill="none" opacity="0.3"/>
<circle cx="304.29" cy="1523" r="5.85" fill="#000000" opacity="0.23"/>
<path d="M402.03 1486.25V1505M396.73 1486.25h10.6M396.73 1505h10.6" stroke="#000000" stroke-width="0.9" fill="none" opacity="0.3"/>
<circle cx="402.03" cy="1495.5" r="5.85" fill="#000000" opacity="0.23"/>
<path d="M499.77 1479.5V1515.7M494.47 1479.5h10.6M494.47 1515.7h10.6" stroke="#000000" stroke-width="0.9" fill="none" opacity="0.3"/>
<circle cx="499.77" cy="1497.75" r="5.85" fill="#000000" opacity="0.23"/>
<path d="M597.51 1495.25V1555.6M592.21 1495.25h10.6M592.21 1555.6h10.6" stroke="#000000" stroke-width="0.9" fill="none" opacity="0.3"/>
<circle cx="597.51" cy="1525.5" r="5.85" fill="#000000" opacity="0.23"/>
<path d="M695.26 1524.7V1616.3M689.96 1524.7h10.6M689.96 1616.3h10.6" stroke="#000000" stroke-width="0.9" fill="none" opacity="0.3"/>
<circle cx="695.26" cy="1570.75" r="5.85" fill="#000000" opacity="0.23"/>
<path d="M793 1556.25V1688.5M787.7 1556.25h10.6M787.7 1688.5h10.6" stroke="#000000" stroke-width="0.9" fill="none" opacity="0.3"/>
<circle cx="793" cy="1622.5" r="5.85" fill="#000000" opacity="0.23"/>
<path d="M890.74 1578.25V1763M885.44 1578.25h10.6M885.44 1763h10.6" stroke="#000000" stroke-width="0.9" fill="none" opacity="0.3"/>
<circle cx="890.74" cy="1670.5" r="5.85" fill="#000000" opacity="0.23"/>
<path d="M988.49 1583.5V1835M983.19 1583.5h10.6M983.19 1835h10.6" stroke="#000000" stroke-width="0.9" fill="none" opacity="0.3"/>
<circle cx="988.49" cy="1709.25" r="5.85" fill="#000000" opacity="0.23"/>
<path d="M108.25 1847.5H1004.2" stroke="#000" stroke-width="2.8" fill="none"/>
<circle cx="128.3" cy="1500.75" r="5.85" fill="#ff8000"/>
<circle cx="147.85" cy="1499.25" r="5.85" fill="#ff8000"/>
<path d="M167.4 1609.25V1619.25M162.1 1609.25h10.6M162.1 1619.25h10.6" stroke="#ff8000" stroke-width="1.3" fill="none"/>
<circle cx="167.4" cy="1614.25" r="5.85" fill="#ff8000"/>
<path d="M186.94 1690.25V1704.25M181.64 1690.25h10.6M181.64 1704.25h10.6" stroke="#ff8000" stroke-width="1.3" fill="none"/>
<circle cx="186.94" cy="1697.25" r="5.85" fill="#ff8000"/>
<path d="M206.49 1745.5V1762M201.19 1745.5h10.6M201.19 1762h10.6" stroke="#ff8000" stroke-width="1.3" fill="none"/>
<circle cx="206.49" cy="1753.8" r="5.85" fill="#ff8000"/>
<path d="M226.04 1784.5V1801.5M220.74 1784.5h10.6M220.74 1801.5h10.6" stroke="#ff8000" stroke-width="1.3" fill="none"/>
<circle cx="226.04" cy="1793.2" r="5.85" fill="#ff8000"/>
<path d="M245.59 1807.5V1825M240.29 1807.5h10.6M240.29 1825h10.6" stroke="#ff8000" stroke-width="1.3" fill="none"/>
<circle cx="245.59" cy="1816.2" r="5.85" fill="#ff8000"/>
<path d="M265.14 1818.4V1836.3M259.84 1818.4h10.6M259.84 1836.3h10.6" stroke="#ff8000" stroke-width="1.3" fill="none"/>
<circle cx="265.14" cy="1827.3" r="5.85" fill="#ff8000"/>
<path d="M284.69 1821.6V1840.2M279.39 1821.6h10.6M279.39 1840.2h10.6" stroke="#ff8000" stroke-width="1.3" fill="none"/>
<circle cx="284.69" cy="1830.8" r="5.85" fill="#ff8000"/>
<circle cx="147.85" cy="1495.75" r="5.85" fill="#00aa00"/>
<path d="M186.94 1478V1488.5M181.64 1478h10.6M181.64 1488.5h10.6" stroke="#00aa00" stroke-width="1.3" fill="none"/>
<circle cx="186.94" cy="1483.25" r="5.85" fill="#00aa00"/>
<path d="M226.04 1592.75V1605.6M220.74 1592.75h10.6M220.74 1605.6h10.6" stroke="#00aa00" stroke-width="1.3" fill="none"/>
<circle cx="226.04" cy="1599.25" r="5.85" fill="#00aa00"/>
<path d="M265.14 1682.5V1697.4M259.84 1682.5h10.6M259.84 1697.4h10.6" stroke="#00aa00" stroke-width="1.3" fill="none"/>
<circle cx="265.14" cy="1690" r="5.85" fill="#00aa00"/>
<path d="M304.24 1747.5V1764.3M298.94 1747.5h10.6M298.94 1764.3h10.6" stroke="#00aa00" stroke-width="1.3" fill="none"/>
<circle cx="304.24" cy="1756" r="5.85" fill="#00aa00"/>
<path d="M343.33 1791.5V1808M338.03 1791.5h10.6M338.03 1808h10.6" stroke="#00aa00" stroke-width="1.3" fill="none"/>
<circle cx="343.33" cy="1799.6" r="5.85" fill="#00aa00"/>
<path d="M382.43 1816.8V1834M377.13 1816.8h10.6M377.13 1834h10.6" stroke="#00aa00" stroke-width="1.3" fill="none"/>
<circle cx="382.43" cy="1825.5" r="5.85" fill="#00aa00"/>
<path d="M421.53 1829.5V1847M416.23 1829.5h10.6M416.23 1847h10.6" stroke="#00aa00" stroke-width="1.3" fill="none"/>
<circle cx="421.53" cy="1838.25" r="5.85" fill="#00aa00"/>
<path d="M460.62 1833.5V1851.2M455.32 1833.5h10.6M455.32 1851.2h10.6" stroke="#00aa00" stroke-width="1.3" fill="none"/>
<circle cx="460.62" cy="1842.2" r="5.85" fill="#00aa00"/>
<path d="M167.48 1487V1494M162.18 1487h10.6M162.18 1494h10.6" stroke="#0000ff" stroke-width="1.3" fill="none"/>
<circle cx="167.48" cy="1490.5" r="5.85" fill="#0000ff"/>
<path d="M225.96 1465.3V1479.6M220.66 1465.3h10.6M220.66 1479.6h10.6" stroke="#0000ff" stroke-width="1.3" fill="none"/>
<circle cx="225.96" cy="1472.5" r="5.85" fill="#0000ff"/>
<path d="M284.44 1586V1599.8M279.14 1586h10.6M279.14 1599.8h10.6" stroke="#0000ff" stroke-width="1.3" fill="none"/>
<circle cx="284.44" cy="1593" r="5.85" fill="#0000ff"/>
<path d="M342.93 1686.5V1702M337.63 1686.5h10.6M337.63 1702h10.6" stroke="#0000ff" stroke-width="1.3" fill="none"/>
<circle cx="342.93" cy="1694.5" r="5.85" fill="#0000ff"/>
<path d="M401.41 1757.75V1774.5M396.11 1757.75h10.6M396.11 1774.5h10.6" stroke="#0000ff" stroke-width="1.3" fill="none"/>
<circle cx="401.41" cy="1766.4" r="5.85" fill="#0000ff"/>
<path d="M459.89 1802.7V1820.3M454.59 1802.7h10.6M454.59 1820.3h10.6" stroke="#0000ff" stroke-width="1.3" fill="none"/>
<circle cx="459.89" cy="1811.7" r="5.85" fill="#0000ff"/>
<path d="M518.37 1827.75V1845.5M513.07 1827.75h10.6M513.07 1845.5h10.6" stroke="#0000ff" stroke-width="1.3" fill="none"/>
<circle cx="518.37" cy="1836.75" r="5.85" fill="#0000ff"/>
<path d="M576.85 1838.75V1856.75M571.55 1838.75h10.6M571.55 1856.75h10.6" stroke="#0000ff" stroke-width="1.3" fill="none"/>
<circle cx="576.85" cy="1847.75" r="5.85" fill="#0000ff"/>
<path d="M635.33 1840.75V1859.75M630.03 1840.75h10.6M630.03 1859.75h10.6" stroke="#0000ff" stroke-width="1.3" fill="none"/>
<circle cx="635.33" cy="1850.5" r="5.85" fill="#0000ff"/>
<path d="M186.82 1487V1494M181.52 1487h10.6M181.52 1494h10.6" stroke="#800080" stroke-width="1.3" fill="none"/>
<circle cx="186.82" cy="1490.5" r="5.85" fill="#800080"/>
<path d="M264.93 1463.75V1480M259.63 1463.75h10.6M259.63 1480h10.6" stroke="#800080" stroke-width="1.3" fill="none"/>
<circle cx="264.93" cy="1472" r="5.85" fill="#800080"/>
<path d="M343.05 1585.25V1603.75M337.75 1585.25h10.6M337.75 1603.75h10.6" stroke="#800080" stroke-width="1.3" fill="none"/>
<circle cx="343.05" cy="1594.5" r="5.85" fill="#800080"/>
<path d="M421.16 1687.5V1708.25M415.86 1687.5h10.6M415.86 1708.25h10.6" stroke="#800080" stroke-width="1.3" fill="none"/>
<circle cx="421.16" cy="1697.75" r="5.85" fill="#800080"/>
<path d="M499.28 1758.5V1780.8M493.98 1758.5h10.6M493.98 1780.8h10.6" stroke="#800080" stroke-width="1.3" fill="none"/>
<circle cx="499.28" cy="1769.6" r="5.85" fill="#800080"/>
<path d="M577.4 1801.25V1824.25M572.1 1801.25h10.6M572.1 1824.25h10.6" stroke="#800080" stroke-width="1.3" fill="none"/>
<circle cx="577.4" cy="1812.5" r="5.85" fill="#800080"/>
<path d="M655.51 1823.5V1845.75M650.21 1823.5h10.6M650.21 1845.75h10.6" stroke="#800080" stroke-width="1.3" fill="none"/>
<circle cx="655.51" cy="1834.75" r="5.85" fill="#800080"/>
<path d="M733.63 1832.5V1855M728.33 1832.5h10.6M728.33 1855h10.6" stroke="#800080" stroke-width="1.3" fill="none"/>
<circle cx="733.63" cy="1843.75" r="5.85" fill="#800080"/>
<path d="M811.74 1833.6V1857.4M806.44 1833.6h10.6M806.44 1857.4h10.6" stroke="#800080" stroke-width="1.3" fill="none"/>
<circle cx="811.74" cy="1845.4" r="5.85" fill="#800080"/>
<circle cx="108.8" cy="1501.5" r="5.85" fill="#000000"/>
<path d="M206.54 1488V1494M201.24 1488h10.6M201.24 1494h10.6" stroke="#000000" stroke-width="1.3" fill="none"/>
<circle cx="206.54" cy="1491" r="5.85" fill="#000000"/>
<path d="M304.29 1465V1485.25M298.99 1465h10.6M298.99 1485.25h10.6" stroke="#000000" stroke-width="1.3" fill="none"/>
<circle cx="304.29" cy="1475" r="5.85" fill="#000000"/>
<path d="M402.03 1586.25V1611.75M396.73 1586.25h10.6M396.73 1611.75h10.6" stroke="#000000" stroke-width="1.3" fill="none"/>
<circle cx="402.03" cy="1599.25" r="5.85" fill="#000000"/>
<path d="M499.77 1686.5V1715.5M494.47 1686.5h10.6M494.47 1715.5h10.6" stroke="#000000" stroke-width="1.3" fill="none"/>
<circle cx="499.77" cy="1701" r="5.85" fill="#000000"/>
<path d="M597.51 1753.25V1784.25M592.21 1753.25h10.6M592.21 1784.25h10.6" stroke="#000000" stroke-width="1.3" fill="none"/>
<circle cx="597.51" cy="1769" r="5.85" fill="#000000"/>
<path d="M695.26 1790.75V1822M689.96 1790.75h10.6M689.96 1822h10.6" stroke="#000000" stroke-width="1.3" fill="none"/>
<circle cx="695.26" cy="1806.25" r="5.85" fill="#000000"/>
<path d="M793 1807.75V1839.1M787.7 1807.75h10.6M787.7 1839.1h10.6" stroke="#000000" stroke-width="1.3" fill="none"/>
<circle cx="793" cy="1823.5" r="5.85" fill="#000000"/>
<path d="M890.74 1812.75V1843.5M885.44 1812.75h10.6M885.44 1843.5h10.6" stroke="#000000" stroke-width="1.3" fill="none"/>
<circle cx="890.74" cy="1828.25" r="5.85" fill="#000000"/>
<path d="M988.49 1809.75V1842.75M983.19 1809.75h10.6M983.19 1842.75h10.6" stroke="#000000" stroke-width="1.3" fill="none"/>
<circle cx="988.49" cy="1826.5" r="5.85" fill="#000000"/>
</g>
<rect x="108.25" y="1328.5" width="895.95" height="553.75" fill="none" stroke="#1c1c1c" stroke-width="1"/>
<text x="108.25" y="1915.65" text-anchor="middle" class="tk">0</text>
<text x="257.59" y="1915.65" text-anchor="middle" class="tk">2</text>
<text x="406.93" y="1915.65" text-anchor="middle" class="tk">4</text>
<text x="556.27" y="1915.65" text-anchor="middle" class="tk">6</text>
<text x="705.61" y="1915.65" text-anchor="middle" class="tk">8</text>
<text x="854.95" y="1915.65" text-anchor="middle" class="tk">10</text>
<text x="1004.29" y="1915.65" text-anchor="middle" class="tk">12</text>
<text x="103.25" y="1858.3" text-anchor="end" class="tk">0.0</text>
<text x="103.25" y="1685.3" text-anchor="end" class="tk">0.5</text>
<text x="103.25" y="1512.3" text-anchor="end" class="tk">1.0</text>
<text x="103.25" y="1339.3" text-anchor="end" class="tk">1.5</text>
<text x="556.52" y="1962.55" text-anchor="middle" font-size="30.5" font-style="italic">v</text>
<g transform="translate(33.4,1697.08) rotate(-90)" class="yl">
<text x="-2.5" y="0.3" font-size="32">h</text>
<text x="15.8" y="-17.9" font-size="22">R−hybrid</text>
<text x="15.9" y="8.4" font-size="22.7" font-style="italic">N</text>
<text x="32.1" y="12.6" font-size="14.4" font-style="italic">l</text>
<text x="105.6" y="0" font-size="32">(</text>
<text transform="translate(117.7,0) scale(0.9,1)" font-size="32" font-style="italic">z</text>
<text x="133.4" y="0" font-size="32">,</text>
<text x="142.1" y="0" font-size="32" font-style="italic">P</text>
<text transform="translate(163.5,5.8) scale(0.9,1)" font-size="22.5" font-style="italic">z</text>
<text x="175.1" y="0" font-size="32">)</text>
</g>
<circle cx="704" cy="95.7" r="4.4" fill="#ff8000"/>
<text x="731.3" y="102.3" font-size="37.6">Pz=0.427 GeV</text>
<circle cx="704" cy="151.7" r="4.4" fill="#00aa00"/>
<text x="731.3" y="157.8" font-size="37.6">Pz=0.855 GeV</text>
<circle cx="704" cy="207.3" r="4.4" fill="#0000ff"/>
<text x="731.3" y="213.4" font-size="37.6">Pz=1.28 GeV</text>
<circle cx="704" cy="262.8" r="4.4" fill="#800080"/>
<text x="731.3" y="269" font-size="37.6">Pz=1.71 GeV</text>
<circle cx="704" cy="318.7" r="4.4" fill="#000000"/>
<text x="731.3" y="325" font-size="37.6">Pz=2.14 GeV</text>
</svg>
</body></html>
